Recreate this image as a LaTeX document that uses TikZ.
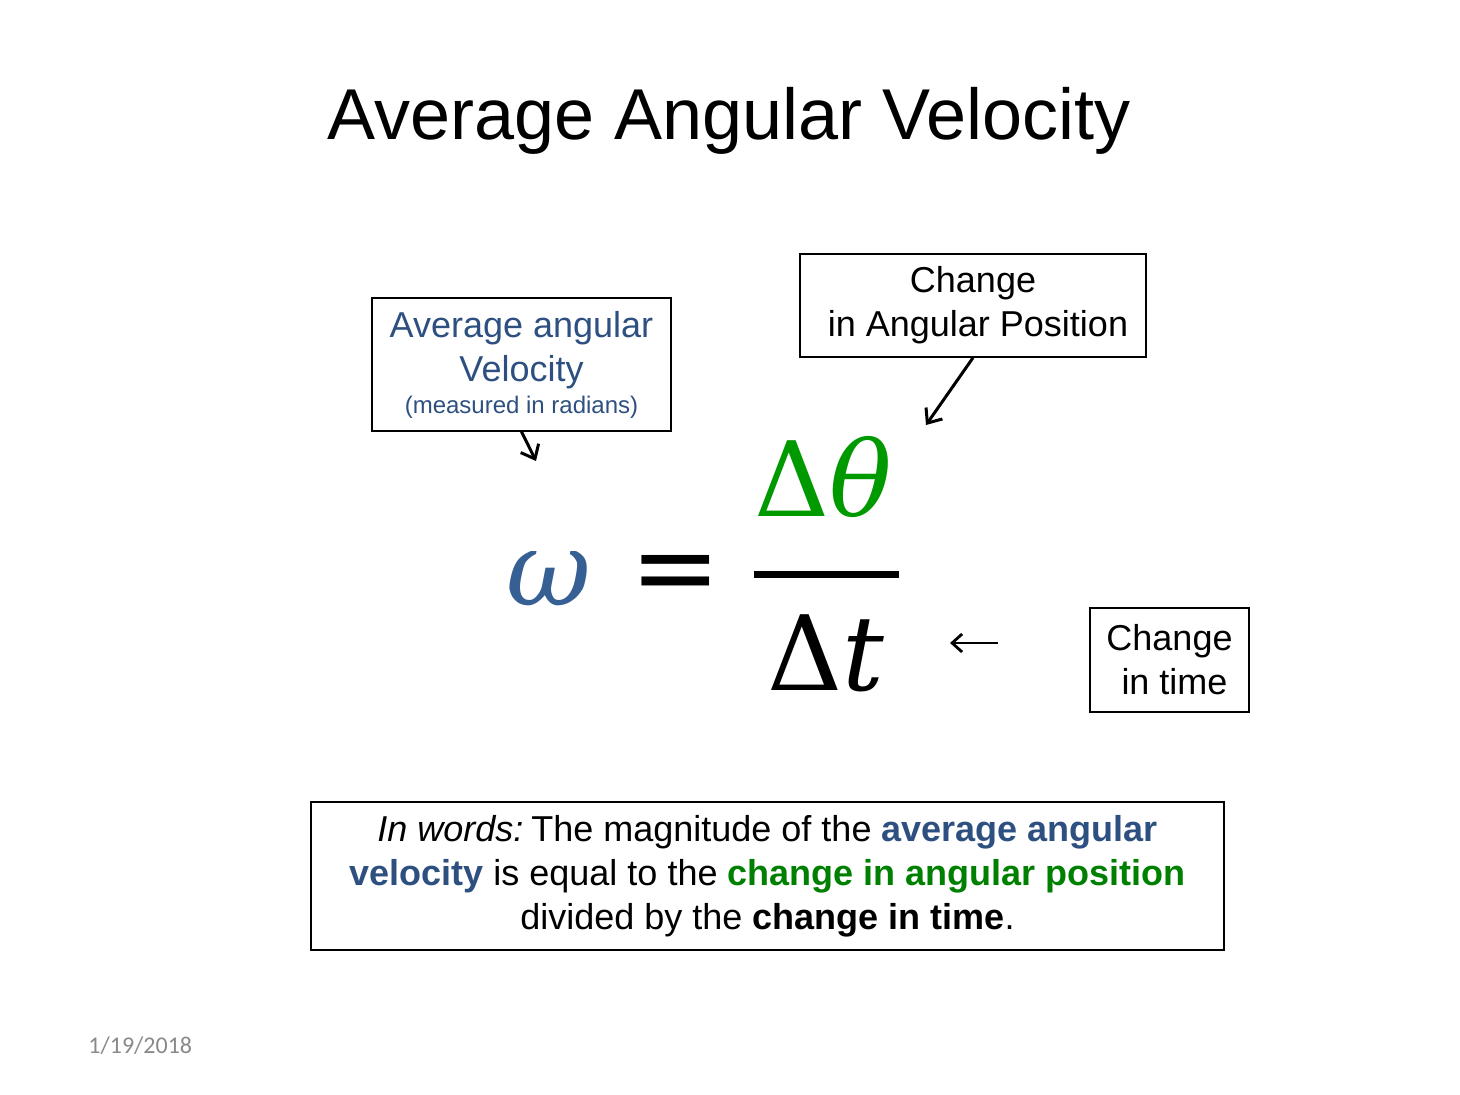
\RequirePackage{fix-cm}
\documentclass[tikz,border=0pt]{standalone}
\usepackage[no-math]{fontspec}
\setmainfont{Liberation Sans}
\newfontfamily\datefont{Carlito}
\newfontfamily\eqfont{DejaVu Serif}
\newfontfamily\eqsans{DejaVu Sans}
\usetikzlibrary{arrows.meta,positioning}
\definecolor{textblue}{RGB}{46,80,128}
\definecolor{omegablue}{RGB}{54,95,148}
\definecolor{thetagreen}{RGB}{0,153,0}
\definecolor{wordgreen}{RGB}{0,128,0}
\definecolor{dategray}{RGB}{137,137,137}
\tikzset{
  box/.style={draw,line width=0.75pt,align=center,inner sep=0pt,font=\fontsize{18}{22}\selectfont},
  wordbox/.style={box,line width=1.3pt},
  pointer/.style={-{Straight Barb[length=6pt,width=10pt,line width=1.5pt]},line width=1.5pt},
  thinpointer/.style={-{Straight Barb[length=5pt,width=9pt,line width=1.4pt]},line width=1.4pt},
  big/.style={font=\eqfont\fontsize{52}{62}\selectfont,inner sep=0pt},
}

\begin{document}
\begin{tikzpicture}[x=0.5pt,y=-0.5pt]
  \useasboundingbox (0,0) rectangle (1460,1095);
  \node[anchor=base,font=\fontsize{36}{43}\selectfont] (title) at (729,140) {Average Angular Velocity};
  \node[box,text=textblue,minimum width=149.5pt,minimum height=66.5pt] (avgbox) at (521.5,364.5)
    {Average angular\\Velocity\\[-6pt]{\fontsize{12}{13}\selectfont(measured in radians)}};
  \node[box,minimum width=173pt,minimum height=51.5pt] (posbox) at (973,305.5) {Change\\\hspace*{5pt}in Angular Position};
  \node[box,minimum width=79.5pt,minimum height=52pt] (timebox) at (1169.5,660) {Change\\\hspace*{5pt}in time};
  \node[big,anchor=base,text=omegablue] (omega) at (549,605) {\itshape ω};
  \node[big,anchor=base,font=\eqsans\fontsize{54}{60}\selectfont] (equals) at (676,604) {=};
  \node[big,anchor=base,text=thetagreen] (num) at (823,517) {Δ\itshape θ};
  \node[big,anchor=base] (den) at (826,690) {Δ\itshape t};
  \coordinate (barL) at (754,575);
  \coordinate (barR) at (899,575);
  \draw[line width=3.5pt] (barL) -- (barR);
  \coordinate (omegatip) at (536,461);
  \coordinate (thetatip) at (926,425);
  \coordinate (timetail) at (998,643);
  \coordinate (timetip) at (950,643);
  \draw[pointer] (avgbox.south) -- (omegatip);
  \draw[pointer] (posbox.south) -- (thetatip);
  \draw[thinpointer] (timetail) -- (timetip);
  \node[wordbox,minimum width=456.5pt,minimum height=74pt] (words) at (767.5,876)
    {{\itshape In words:}\hspace{4pt}The magnitude of the \textbf{\color{textblue}average angular}\\
     \textbf{\color{textblue}velocity} is equal to the \textbf{\color{wordgreen}change in angular position}\\
     divided by the \textbf{change in time}.};
  \node[anchor=base west,inner sep=0pt,font=\datefont\fontsize{12}{14}\selectfont,text=dategray] (date) at (88,1053) {1/19/2018};
\end{tikzpicture}
\end{document}
